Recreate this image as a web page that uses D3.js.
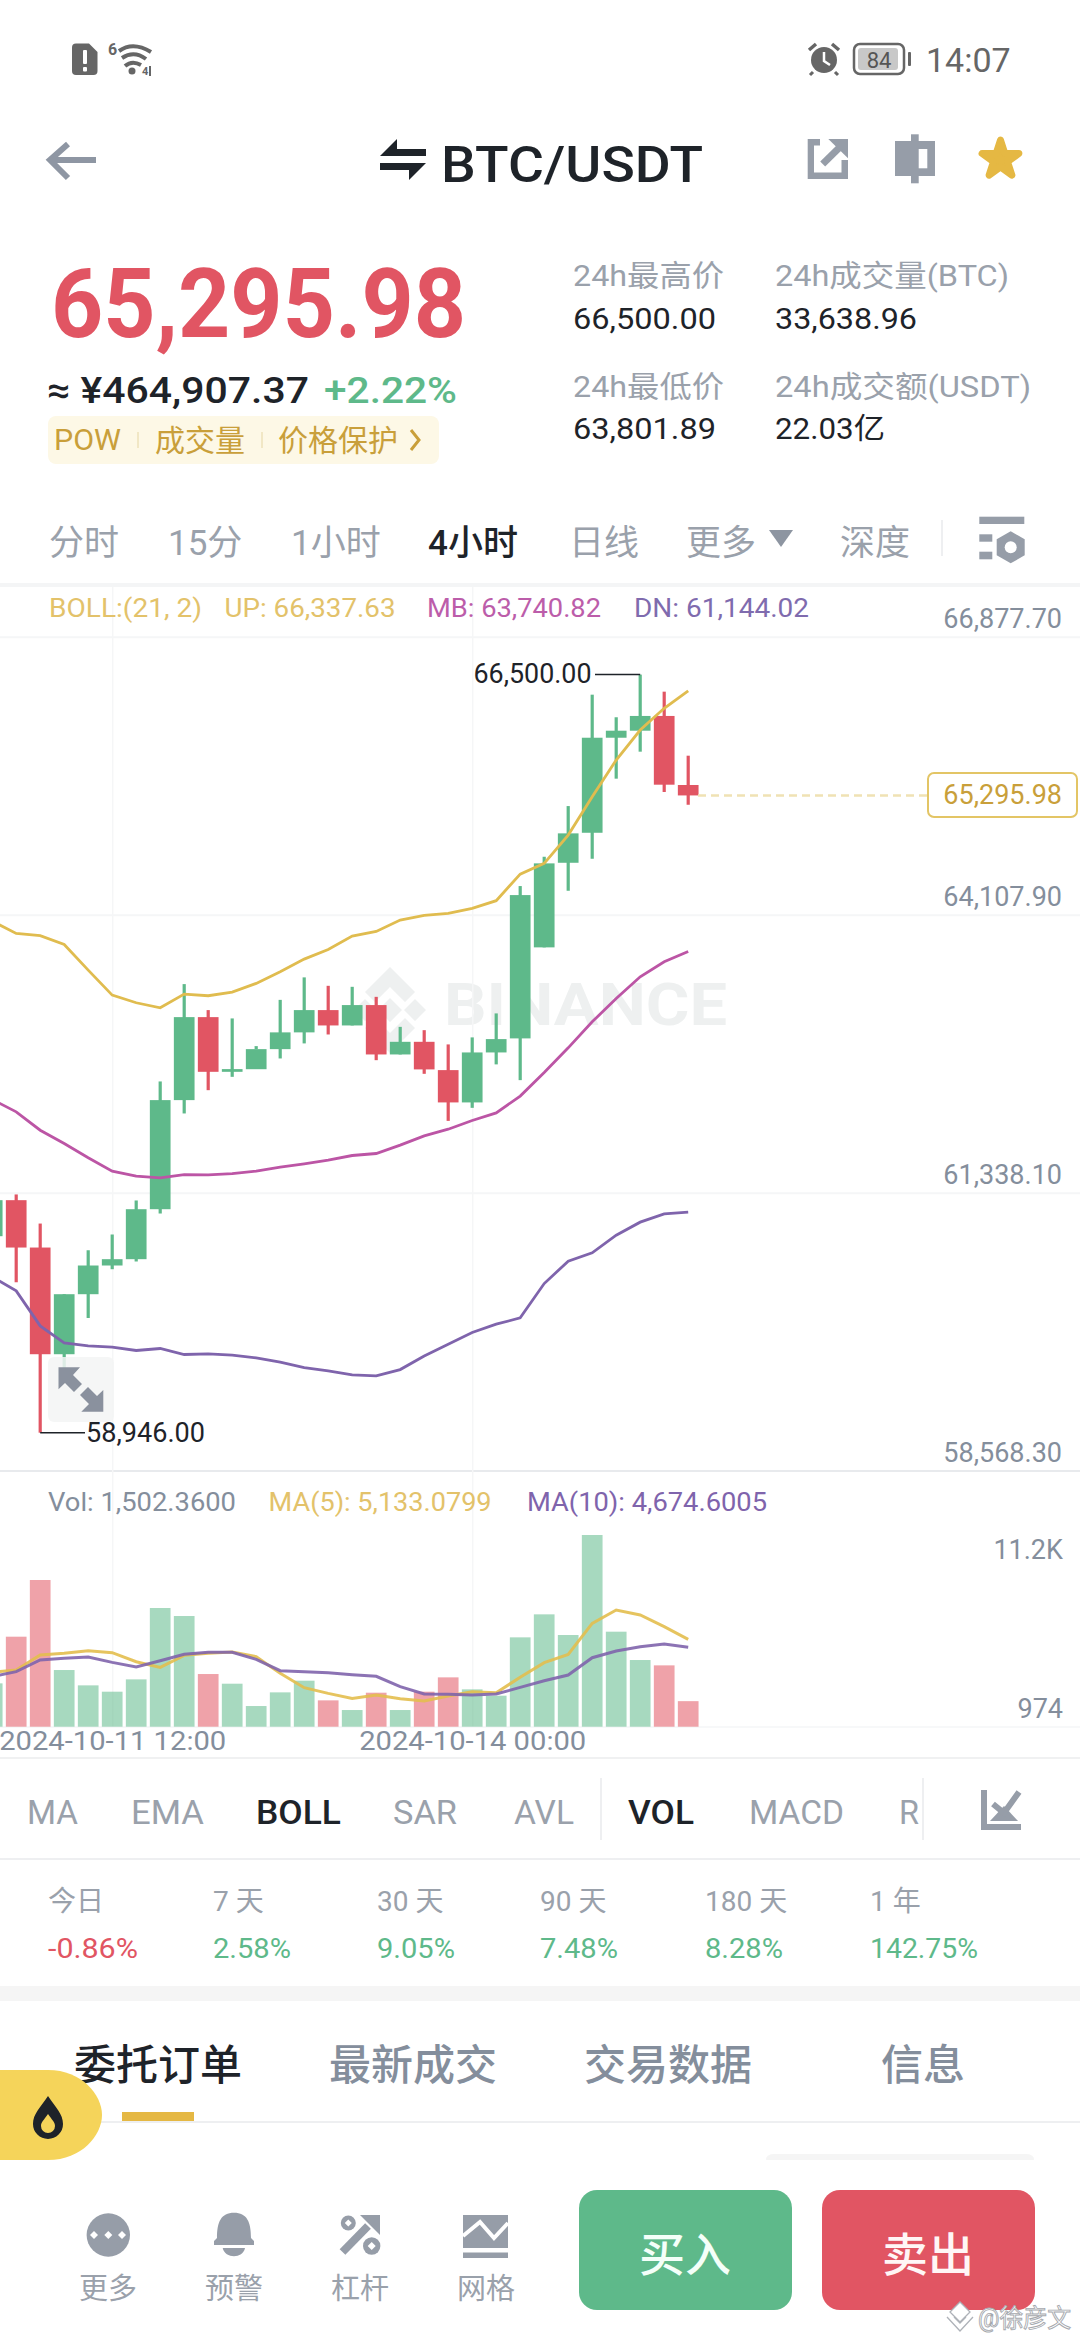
<!DOCTYPE html>
<html><head><meta charset="utf-8">
<script src="https://cdn.jsdelivr.net/npm/d3@7"></script>
<style>html,body{margin:0;padding:0;background:#fff}svg{display:block}</style>
</head><body><svg id="c" width="1080" height="2340" viewBox="0 0 1080 2340"></svg>
<script>
// ---------- chart data ----------
const opens  = [60904,61263,60791,59728,60326,60612,60675,61173,62260,63087,62542,62568,62768,62935,63157,63004,63207,62715,62841,62559,62237,62735,62875,63782,64625,64924,65871,65941,66088,65400];
const closes = [61263,60791,59728,60326,60612,60675,61173,62260,63087,62542,62569,62768,62935,63157,63004,63207,62715,62841,62566,62237,62735,62868,64303,64619,64918,65871,65941,66088,65403,65296];
const highs  = [61400,61320,61030,60326,60764,60921,61260,62446,63416,63157,63074,62798,63259,63483,63399,63389,63289,62990,62957,62815,62885,63124,64393,64685,65190,66300,66075,66500,66330,65692];
const lows   = [60700,60445,58946,59588,60089,60575,60652,61130,62127,62359,62492,62768,62675,62825,62914,63004,62658,62715,62522,62053,62183,62616,62459,63782,64346,64665,65463,65732,65330,65203];
const bollUp = [64044,63921,63898,63811,63555,63306,63230,63180,63316,63300,63336,63423,63539,63665,63761,63894,63941,64054,64100,64120,64170,64247,64512,64619,64901,65283,65649,65948,66164,66338];
const bollMb = [62266,62143,61960,61827,61685,61552,61502,61485,61518,61515,61528,61552,61592,61625,61662,61708,61728,61811,61904,61970,62057,62133,62300,62535,62781,63040,63273,63489,63639,63741];
const bollDn = [60499,60359,60010,59841,59811,59798,59765,59785,59725,59731,59718,59691,59648,59595,59562,59522,59512,59575,59711,59828,59944,60027,60090,60432,60655,60738,60914,61044,61127,61144];
const volumes = [2548,5292,8624,3332,2430,2058,2783,6978,6507,3097,2528,1215,2019,2705,1548,980,1999,980,2058,2901,2195,1823,5253,6605,5390,11270,5586,3920,3606,1502];
const volMa5  = [3195,3332,4214,4312,4469,4351,3822,3489,4194,4312,4390,4116,3136,2293,1960,1666,1862,1646,1509,1803,2058,1999,2901,3763,4253,6076,6860,6566,5880,5133];
const volMa10 = [2940,3234,3920,4018,4096,3783,3508,3881,4253,4371,4371,3959,3293,3234,3175,3058,2960,2352,1921,1901,1862,1921,2313,2705,3038,4057,4449,4704,4861,4675];
const priceTicks = [66877.70,64107.90,61338.10,58568.30];
const volTicks = [11200,974];
const lastPrice = 65295.98, highMark = 66500, lowMark = 58946;
const timeTicks = [new Date(Date.UTC(2024,9,11,12)), new Date(Date.UTC(2024,9,14,0))];
const firstCandle = new Date(Date.UTC(2024,9,10,16)), lastCandle = new Date(Date.UTC(2024,9,15,12));
const periodLabels = ["分时","15分","1小时","4小时","日线","更多","深度"];
const indicatorLabels = ["MA","EMA","BOLL","SAR","AVL","VOL","MACD","R"];
const perfLabels = ["今日","7 天","30 天","90 天","180 天","1 年"];
const perfValues = ["-0.86%","2.58%","9.05%","7.48%","8.28%","142.75%"];
const sectionTabs = ["委托订单","最新成交","交易数据","信息"];
const bottomLabels = ["更多","预警","杠杆","网格"];

// ---------- palette & helpers ----------
const GREEN="#5EB98A", RED="#E15563", DARK="#1E2329", GREY="#848E9C", LGREY="#9AA1AB", GOLD="#C99F3A", ICON="#969DA8";
const FONT='Roboto,"Noto Sans CJK SC",sans-serif';
const svg=d3.select("#c").style("font-family",FONT);
function T(x,cy,s,o={}){const z=o.size||28;
  const t=svg.append("text").attr("x",x).attr("y",cy+z*0.355).text(s)
   .attr("font-size",z).attr("fill",o.fill||DARK).attr("font-weight",o.weight||400)
   .attr("text-anchor",o.anchor||"start");
  if(o.w) t.attr("textLength",o.w).attr("lengthAdjust","spacingAndGlyphs");
  return t;}
function R(x,y,w,h,f,r=0){return svg.append("rect").attr("x",x).attr("y",y).attr("width",w).attr("height",h).attr("rx",r).attr("fill",f);}
function P(d,f,s,sw){return svg.append("path").attr("d",d).attr("fill",f||"none").attr("stroke",s||"none").attr("stroke-width",sw||0);}
function C(cx,cy,r,f){return svg.append("circle").attr("cx",cx).attr("cy",cy).attr("r",r).attr("fill",f);}

// ---------- status bar ----------
P("M76 43.5H89L97.5 52V71a4 4 0 0 1-4 4H76a4 4 0 0 1-4-4V47.5a4 4 0 0 1 4-4Z","#666");
R(83,50,4,14,"#fff",1);R(83,67,4,4.5,"#fff",1);
T(108,49,"6",{size:16,fill:"#666",weight:700});
P("M119 51Q133 41 151 52","none","#666",4);P("M122 58Q134 50 146 59","none","#666",4);P("M125 66Q132 60 141 65","none","#666",4);
C(132,71,3.5,"#666");
T(142,71,"4",{size:11,fill:"#666",weight:700});P("M150 66v10","none","#666",2);
C(824,60,13,"#666");
P("M824 52v9l6 4","none","#fff",2.5);P("M809 50l7-6M839 50l-7-6","none","#666",3.5);P("M813 72l-3 3M835 72l3 3","none","#666",3);
svg.append("rect").attr("x",854).attr("y",44).attr("width",50).attr("height",30).attr("rx",6).attr("fill","#fff").attr("stroke","#666").attr("stroke-width",2.5);
R(858,48,40,22,"#C8C8C8",3);R(908,52,3,14,"#666",1);
T(879,60,"84",{size:22,fill:"#555",anchor:"middle"});
T(926,60,"14:07",{size:34,fill:"#666"});

// ---------- header ----------
P("M96 160H52M68 144L50 160L68 178","none","#8E96A3",6);
P("M380 156L397 139V149H426V156Z M426 163L409 180V170H380V163Z",DARK);
T(441,164,"BTC/USDT",{size:50,weight:500,fill:DARK,w:262});
P("M820 139H807.7V179H848V160H841.5V172.5H814V145.5H820Z",ICON);
P("M828.3 139H848V158.3Z",ICON);P("M822.7 164L841 146","none",ICON,7);
R(895,141,40,35,ICON);R(911,134.3,7.7,49,ICON);R(918.7,149,8.6,19.3,"#fff");
svg.append("path").attr("d",d3.symbol(d3.symbolStar,420)()).attr("transform","translate(1000.5,159.5)").attr("fill","#E5B843").attr("stroke","#E5B843").attr("stroke-width",7).attr("stroke-linejoin","round");

// ---------- ticker ----------
T(51,303,"65,295.98",{size:97,weight:700,fill:RED,w:415});
T(47,390,"≈ ¥464,907.37",{size:37,weight:500,w:262});
T(324,390,"+2.22%",{size:37,weight:500,fill:GREEN,w:133});
R(48,416,391,48,"#FDF8E6",8);
T(54,440,"POW",{size:29,fill:GOLD,w:67});
T(155,440,"成交量",{size:30,fill:GOLD});
T(278,440,"价格保护",{size:30,fill:GOLD});
P("M411 430l8 10l-8 10","none",GOLD,3);
R(137,432,2,16,"#F1E7C5");R(261,432,2,16,"#F1E7C5");
T(573,275,"24h最高价",{size:30,fill:LGREY,w:151});
T(775,275,"24h成交量(BTC)",{size:30,fill:LGREY,w:234});
T(573,319,"66,500.00",{size:29,w:143});T(775,319,"33,638.96",{size:29,w:142});
T(573,386,"24h最低价",{size:30,fill:LGREY,w:151});
T(775,386,"24h成交额(USDT)",{size:30,fill:LGREY,w:256});
T(573,429,"63,801.89",{size:29,w:143});T(775,429,"22.03亿",{size:29,w:110});

// period tabs
const periodX=[49,168,291,428,569,686,840];
periodLabels.forEach((s,i)=>T(periodX[i],543,s,{size:35,fill:i===3?DARK:LGREY,weight:i===3?500:400}));
P("M769 530H793L781 547Z","#8D95A1");
R(941,520,2,36,"#EEEFF1");
R(979.3,516.7,45,7.3,ICON);R(979.3,534.3,13,7.4,ICON);R(979.3,551.7,13,7.6,ICON);
P("M1010.7 531.3L1024.7 539.3V555.3L1010.7 563.3L996.7 555.3V539.3Z",ICON);C(1010.7,547.3,6,"#fff");

// ---------- main chart ----------
R(0,583,1080,4,"#F4F5F6");
const x=d3.scaleUtc().domain([firstCandle,lastCandle]).range([-7.8,688.2]);
const y=d3.scaleLinear().domain([58568.30,66877.70]).range([1470.6,636.7]);
const vy=d3.scaleLinear().domain([0,11270]).range([1726.7,1535]);
const times=opens.map((_,i)=>d3.utcHour.offset(firstCandle,4*i));
const BW=20.7, WW=3.2;

// watermark
P("M390 967L415 992L405 1002L390 987L375 1002L365 992Z M390 1053L415 1028L405 1018L390 1033L375 1018L365 1028Z M390 998L402 1010L390 1022L378 1010Z M354 1010L365 999L376 1010L365 1021Z M404 1010L415 999L426 1010L415 1021Z","#EEF0F0");
T(444,1004,"BINANCE",{size:59,weight:700,fill:"#EEF0F0",w:283});

// grid + price axis
const pa=svg.append("g").attr("transform","translate(1062,0)")
  .call(d3.axisLeft(y).tickValues(priceTicks).tickSize(0).tickPadding(0).tickFormat(d3.format(",.2f")));
pa.select(".domain").remove();
pa.selectAll(".tick line").attr("x1",18).attr("x2",-1062).attr("stroke",(d,i)=>i===3?"#E8EAED":"#F5F6F7").attr("stroke-width",2);
pa.selectAll(".tick text").attr("x",0).attr("y",-17.5).attr("font-family",FONT).attr("font-size",27).attr("fill",GREY);

// time axis (labels + vertical grid)
const ta=svg.append("g").attr("transform","translate(0,1727)")
  .call(d3.axisBottom(x).tickValues(timeTicks).tickSize(0).tickPadding(0).tickFormat(d3.utcFormat("%Y-%m-%d %H:%M")));
ta.select(".domain").remove();
ta.selectAll(".tick line").attr("y1",-1140).attr("y2",0).attr("stroke","#F5F6F7").attr("stroke-width",1.5);
ta.selectAll(".tick text").attr("y",14).attr("dy",".355em").attr("font-family",FONT).attr("font-size",26).attr("fill",GREY)
  .attr("textLength",227).attr("lengthAdjust","spacingAndGlyphs");
svg.append("line").attr("x1",0).attr("x2",1080).attr("y1",1727).attr("y2",1727).attr("stroke","#F5F6F7").attr("stroke-width",1.5);
svg.append("line").attr("x1",0).attr("x2",1080).attr("y1",1758).attr("y2",1758).attr("stroke","#F0F1F2").attr("stroke-width",2);

// candles
const col=i=>closes[i]>=opens[i]?GREEN:RED;
const cg=svg.append("g");
cg.selectAll("line.w").data(times).join("line").attr("x1",d=>x(d)).attr("x2",d=>x(d))
  .attr("y1",(d,i)=>y(highs[i])).attr("y2",(d,i)=>y(lows[i])).attr("stroke",(d,i)=>col(i)).attr("stroke-width",WW);
cg.selectAll("rect").data(times).join("rect").attr("x",d=>x(d)-BW/2).attr("width",BW)
  .attr("y",(d,i)=>y(Math.max(opens[i],closes[i])))
  .attr("height",(d,i)=>Math.max(2,Math.abs(y(opens[i])-y(closes[i])))).attr("fill",(d,i)=>col(i));

// bollinger
const line=d3.line().x((d,i)=>x(times[i])).y(d=>y(d));
[[bollUp,"#E0BC4F"],[bollMb,"#BC55A5"],[bollDn,"#7F64AC"]].forEach(([a,c])=>
  svg.append("path").attr("d",line(a)).attr("fill","none").attr("stroke",c).attr("stroke-width",2.8));

// legends
T(49,608,"BOLL:(21, 2)",{size:26,fill:"#E3C26A",w:153});
T(224.5,608,"UP: 66,337.63",{size:26,fill:"#E3C26A",w:171});
T(427,608,"MB: 63,740.82",{size:26,fill:"#BC5DAA",w:174});
T(634,608,"DN: 61,144.02",{size:26,fill:"#7F6BAE",w:175});

// hi / lo markers
svg.append("path").attr("d",`M595 ${y(highMark)}H${x(times[27])}`).attr("stroke",DARK).attr("stroke-width",1.5);
T(473.5,y(highMark)-1,"66,500.00",{size:27,w:118});
svg.append("path").attr("d",`M${x(times[2])} ${y(lowMark)}H85`).attr("stroke",DARK).attr("stroke-width",1.5);
T(86,y(lowMark),"58,946.00",{size:27,w:119});

// last price
svg.append("line").attr("x1",698).attr("x2",928).attr("y1",y(lastPrice)).attr("y2",y(lastPrice))
  .attr("stroke","#F0E2B4").attr("stroke-width",2.4).attr("stroke-dasharray","8 5");
svg.append("rect").attr("x",928).attr("y",773).attr("width",149).attr("height",44).attr("rx",6).attr("fill","#fff").attr("stroke","#E3C565").attr("stroke-width",2);
T(1062,y(lastPrice)-1,"65,295.98",{size:27,fill:GOLD,anchor:"end"});

// expand button
svg.append("rect").attr("x",48).attr("y",1357).attr("width",66).attr("height",65).attr("rx",6).attr("fill","#F3F4F5").attr("fill-opacity",.85);
P("M58.5 1367.3H80L73 1375L82 1384L74 1392L65 1383L58.5 1389.3Z M103.3 1411.7H81.3L89 1404L80 1395L88 1387L97 1396L103.3 1390Z","#8A919E");

// ---------- volume ----------
const vg=svg.append("g");
vg.selectAll("rect").data(times).join("rect").attr("x",d=>x(d)-BW/2).attr("width",BW)
  .attr("y",(d,i)=>vy(volumes[i])).attr("height",(d,i)=>vy(0)-vy(volumes[i]))
  .attr("fill",(d,i)=>col(i)).attr("fill-opacity",.55);
const vline=d3.line().x((d,i)=>x(times[i])).y(d=>vy(d));
[[volMa5,"#E3BE4E"],[volMa10,"#7F64AC"]].forEach(([a,c])=>
  svg.append("path").attr("d",vline(a)).attr("fill","none").attr("stroke",c).attr("stroke-width",3).attr("stroke-opacity",.9));
const va=svg.append("g").attr("transform","translate(1063,0)")
  .call(d3.axisLeft(vy).tickValues(volTicks).tickSize(0).tickPadding(0).tickFormat(d=>d>=1000?d3.format(".1f")(d/1000)+"K":d));
va.select(".domain").remove();
va.selectAll(".tick text").attr("x",0).attr("y",d=>d>=1000?14:-1).attr("font-family",FONT).attr("font-size",27).attr("fill",GREY);
T(48,1502,"Vol: 1,502.3600",{size:26,fill:GREY,w:188});
T(268.6,1502,"MA(5): 5,133.0799",{size:26,fill:"#E3C26A",w:223});
T(527,1502,"MA(10): 4,674.6005",{size:26,fill:"#7F64AC",w:240});

// ---------- indicator row ----------
const indX=[27,131,256,393,514,628,749,899];
const indW=[51,73,85,64,60,66,95,20];
indicatorLabels.forEach((s,i)=>T(indX[i],1812,s,{size:34,fill:(s==="BOLL"||s==="VOL")?DARK:LGREY,weight:(s==="BOLL"||s==="VOL")?500:400,w:indW[i]}));
R(600,1778,2,62,"#EEEFF1");R(922,1778,2,62,"#EEEFF1");
P("M984 1790V1827H1021","none",ICON,6);P("M990 1821H1018L1004 1806Z",ICON);P("M993 1804L1004 1813L1019 1792","none",ICON,6);
R(0,1858,1080,2,"#EEEFF1");

// performance
const perfX=[48,213,377,540,705,870];
const perfW=[90,78,78,78,78,108];
perfLabels.forEach((s,i)=>T(perfX[i],1901,s,{size:28,fill:LGREY}));
perfValues.forEach((s,i)=>T(perfX[i],1948,s,{size:28,fill:s[0]==="-"?RED:GREEN,w:perfW[i]}));
R(0,1986,1080,15,"#F5F5F5");

// section tabs
const tabX=[74,329,584,881];
sectionTabs.forEach((s,i)=>T(tabX[i],2065,s,{size:42,fill:i?GREY:DARK,weight:500}));
R(122,2112,72,9,"#E5B844");R(0,2121,1080,2,"#EEEFF1");
R(766,2154,268,10,"#F5F5F5",8);

// bottom bar
R(0,2160,1080,180,"#fff");
P("M0 2070H48C82 2070 102 2095 102 2115C102 2135 82 2160 48 2160H0Z","#F5D45A");
P("M48 2096C40 2108 33 2114 33 2124A15 15 0 0 0 63 2124C63 2114 56 2108 48 2096Z",DARK);
P("M48 2114C44 2120 41 2122 41 2126A7 7 0 0 0 55 2126C55 2122 52 2120 48 2114Z","#F5D45A");
const botX=[108,234,360,486];
bottomLabels.forEach((s,i)=>T(botX[i],2289,s,{size:29,fill:LGREY,anchor:"middle"}));
C(108.3,2235,21.7,ICON);
[94,108.3,122].forEach(c=>P(`M${c} 2231L${c+4} 2235L${c} 2239L${c-4} 2235Z`,"#fff"));
P("M217 2238C217 2222 221 2212.7 234 2212.7C247 2212.7 251 2222 251 2238L254 2241V2245H214V2241Z M222.7 2248H245C243 2259 225 2259 222.7 2248Z",ICON);
P("M342.5 2252L368 2226","none",ICON,8);P("M360 2215H380V2235Z",ICON);
C(348.3,2223,7.5,ICON);C(371.7,2246,8.7,ICON);
P("M348.3 2219.5L351.8 2223L348.3 2226.5L344.8 2223Z M371.7 2242L375.7 2246L371.7 2250L367.7 2246Z","#fff");
R(463,2215,45,33,ICON);R(463,2252.5,45,5.5,ICON);
P("M463 2236L480 2222L494 2238L508 2223","none","#fff",4);
R(579,2190,213,120,GREEN,18);R(822,2190,213,120,RED,18);
T(685,2255,"买入",{size:46,weight:500,fill:"#F4FFF9",anchor:"middle"});
T(928,2255,"卖出",{size:46,weight:500,fill:"#FFF6F6",anchor:"middle"});
// image mark
P("M960 2302L970 2312L960 2322L950 2312Z M947 2317L960 2331L973 2317 M954 2317L960 2323L966 2317","#fff","#AEB2B8",1.3);
T(978,2318,"@徐彦文",{size:25,fill:"#fff",w:93}).attr("stroke","#A5A8AD").attr("stroke-width",.9);
</script></body></html>
